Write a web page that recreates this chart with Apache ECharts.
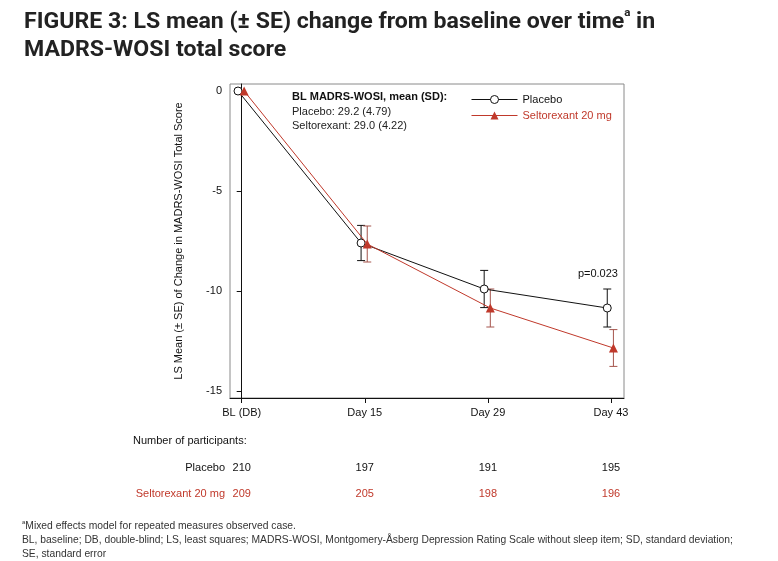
<!DOCTYPE html>
<html>
<head>
<meta charset="utf-8">
<script src="https://cdn.jsdelivr.net/npm/echarts@6/dist/echarts.min.js"></script>
<style>
  html, body { margin: 0; padding: 0; background: #fff; }
  #chart { width: 778px; height: 561px; }
</style>
</head>
<body>
<div id="chart"></div>
<script>
// visits on the x axis
const visits = ['BL (DB)', 'Day 15', 'Day 29', 'Day 43']
// LS mean change from baseline
const placeboMean = [0, -7.6, -9.9, -10.85]
const seltorexantMean = [0, -7.65, -10.85, -12.85]
// standard errors
const placeboSE = [0, 0.88, 0.93, 0.95]
const seltorexantSE = [0, 0.9, 0.95, 0.92]
// number of participants per visit
const placeboN = [210, 197, 191, 195]
const seltorexantN = [209, 205, 198, 196]
const yTicks = [0, -5, -10, -15]

const FONT = "'Liberation Sans', Arial, sans-serif"
const RED = '#c0392b'
const RED_BAR = '#a5544c'

const chart = echarts.init(document.getElementById('chart'))

function points(means, offset) {
  return means.map((v, i) => [i + offset, v])
}
function bars(means, se, offset) {
  return means.map((v, i) => [i + offset, v - se[i], v + se[i]]).filter(d => d[2] !== d[1])
}
function errorBar(color) {
  return function(params, api) {
    const x = api.value(0)
    const lo = api.coord([x, api.value(1)])
    const hi = api.coord([x, api.value(2)])
    const half = 4
    const style = { stroke: color, lineWidth: 1 }
    return {
      type: 'group',
      children: [
        { type: 'line', shape: { x1: lo[0], y1: lo[1], x2: hi[0], y2: hi[1] }, style },
        { type: 'line', shape: { x1: lo[0] - half, y1: lo[1], x2: lo[0] + half, y2: lo[1] }, style },
        { type: 'line', shape: { x1: hi[0] - half, y1: hi[1], x2: hi[0] + half, y2: hi[1] }, style }
      ]
    }
  }
}

chart.setOption({
  backgroundColor: '#ffffff',
  animation: false,
  textStyle: { fontFamily: FONT },
  grid: {
    left: 230,
    top: 84,
    right: 154,
    bottom: 163,
    show: true,
    borderColor: '#8a8a8a',
    borderWidth: 1
  },
  legend: {
    left: 466,
    top: 89,
    orient: 'vertical',
    itemWidth: 46,
    itemHeight: 10,
    itemGap: 5,
    lineStyle: { width: 1 },
    itemStyle: { borderWidth: 1 },
    textStyle: { fontSize: 11, fontFamily: FONT },
    data: [
      { name: 'Placebo', textStyle: { color: '#111' } },
      { name: 'Seltorexant 20 mg', textStyle: { color: RED } }
    ]
  },
  xAxis: {
    type: 'value',
    min: -0.095,
    max: 3.106,
    axisLine: { onZero: false, lineStyle: { color: '#111', width: 1 } },
    splitLine: { show: false },
    axisTick: { customValues: [0, 1, 2, 3], length: 5, lineStyle: { color: '#111' } },
    axisLabel: {
      customValues: [0, 1, 2, 3],
      formatter: v => visits[Math.round(v)],
      color: '#111',
      fontSize: 11,
      margin: 9
    }
  },
  yAxis: {
    type: 'value',
    min: -15.35,
    max: 0.35,
    name: 'LS Mean (± SE) of Change in MADRS-WOSI Total Score',
    nameLocation: 'middle',
    nameGap: 46,
    nameRotate: 90,
    nameTextStyle: { fontSize: 11, color: '#111' },
    axisLine: { show: true, lineStyle: { color: '#111', width: 1 } },
    splitLine: { show: false },
    axisTick: { customValues: yTicks, length: 5, lineStyle: { color: '#111' } },
    axisLabel: { customValues: yTicks, color: '#111', fontSize: 11, margin: 8 }
  },
  series: [
    {
      name: 'Placebo error',
      type: 'custom',
      renderItem: errorBar('#111'),
      data: bars(placeboMean, placeboSE, -0.03),
      z: 3
    },
    {
      name: 'Seltorexant error',
      type: 'custom',
      renderItem: errorBar(RED_BAR),
      data: bars(seltorexantMean, seltorexantSE, 0.02),
      z: 3
    },
    {
      name: 'Placebo',
      type: 'line',
      data: points(placeboMean, -0.03),
      symbol: 'circle',
      symbolSize: 8,
      color: '#111',
      lineStyle: { color: '#111', width: 1 },
      itemStyle: { color: '#ffffff', borderColor: '#111', borderWidth: 1 },
      z: 4
    },
    {
      name: 'Seltorexant 20 mg',
      type: 'line',
      data: points(seltorexantMean, 0.02),
      symbol: 'triangle',
      symbolSize: 9,
      color: RED,
      lineStyle: { color: RED, width: 1 },
      itemStyle: { color: RED },
      z: 5
    }
  ]
})

// texts placed from the axis scale
const xs = visits.map((v, i) => chart.convertToPixel({ xAxisIndex: 0 }, i))
const pLabel = chart.convertToPixel({ yAxisIndex: 0 }, placeboMean[3])

const graphics = [
  {
    type: 'text', left: 24, top: 8,
    style: {
      text: 'FIGURE 3: LS mean (± SE) change from baseline over time{sup|a} in\nMADRS-WOSI total score',
      font: "bold 22px Roboto, 'Liberation Sans', sans-serif",
      fill: '#222',
      lineHeight: 28,
      rich: { sup: { font: "bold 11px Roboto, sans-serif", verticalAlign: 'top', fill: '#222', padding: [0, 0, 8, 0] } }
    },
    scaleX: 1.05
  },
  {
    type: 'text', x: 292, y: 90,
    style: {
      text: '{b|BL MADRS-WOSI, mean (SD):}\nPlacebo: 29.2 (4.79)\nSeltorexant: 29.0 (4.22)',
      font: '11px ' + FONT, fill: '#222', lineHeight: 14.5,
      rich: { b: { font: 'bold 11px ' + FONT, fill: '#111' } }
    }
  },
  {
    type: 'text', x: xs[3] + 7, y: pLabel - 34,
    style: { text: 'p=0.023', font: '11px ' + FONT, fill: '#111', align: 'right', verticalAlign: 'middle' }
  },
  {
    type: 'text', x: 133, y: 441,
    style: { text: 'Number of participants:', font: '11px ' + FONT, fill: '#111', verticalAlign: 'middle' }
  },
  {
    type: 'text', x: 225, y: 468,
    style: { text: 'Placebo', font: '11px ' + FONT, fill: '#111', align: 'right', verticalAlign: 'middle' }
  },
  {
    type: 'text', x: 225, y: 494,
    style: { text: 'Seltorexant 20 mg', font: '11px ' + FONT, fill: RED, align: 'right', verticalAlign: 'middle' }
  },
  {
    type: 'text', x: 22, y: 519,
    style: {
      text: '{s|a}Mixed effects model for repeated measures observed case.\nBL, baseline; DB, double-blind; LS, least squares; MADRS-WOSI, Montgomery-Åsberg Depression Rating Scale without sleep item; SD, standard deviation;\nSE, standard error',
      font: '10.3px ' + FONT, fill: '#333', lineHeight: 14,
      rich: { s: { font: '6px ' + FONT, verticalAlign: 'top', fill: '#333' } }
    }
  }
]
xs.forEach((x, i) => {
  graphics.push({
    type: 'text', x: x, y: 468,
    style: { text: String(placeboN[i]), font: '11px ' + FONT, fill: '#111', align: 'center', verticalAlign: 'middle' }
  })
  graphics.push({
    type: 'text', x: x, y: 494,
    style: { text: String(seltorexantN[i]), font: '11px ' + FONT, fill: RED, align: 'center', verticalAlign: 'middle' }
  })
})
chart.setOption({ graphic: graphics })
</script>
</body>
</html>
